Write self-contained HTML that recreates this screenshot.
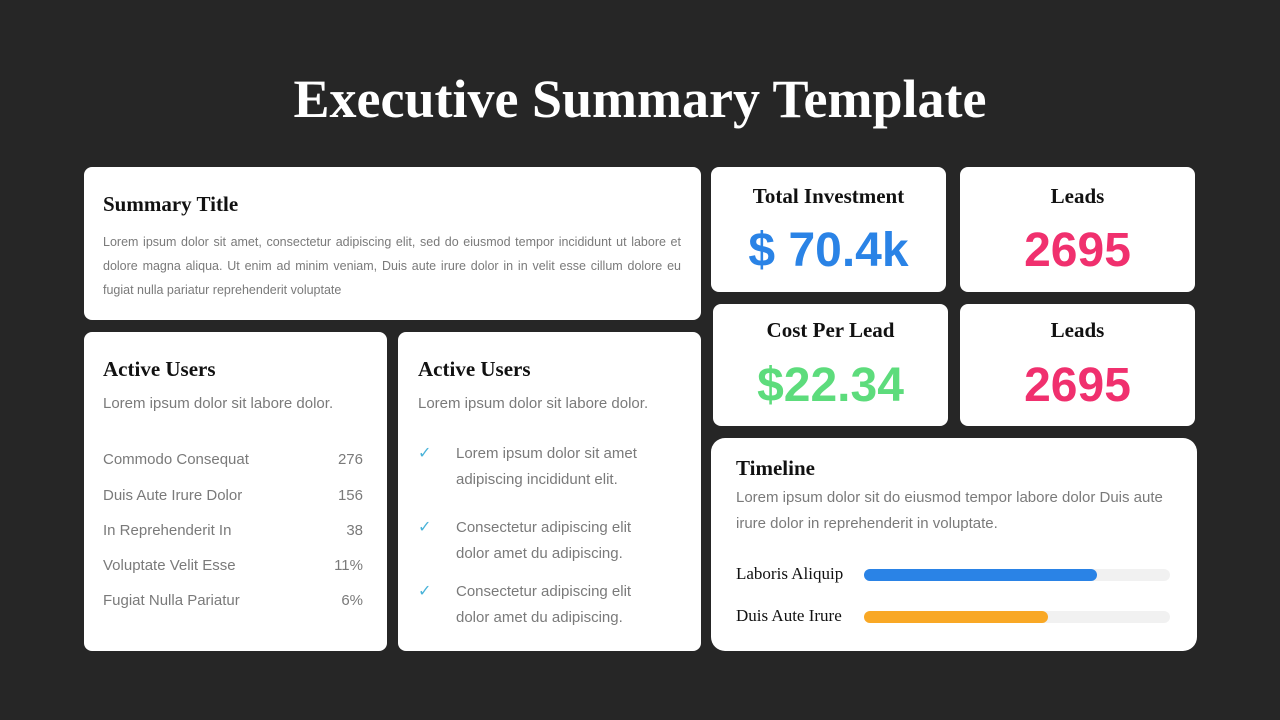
<!DOCTYPE html>
<html><head><meta charset="utf-8"><style>
body{margin:0;width:1280px;height:720px;background:#262626;position:relative;overflow:hidden;font-family:"Liberation Sans",sans-serif}
.a{position:absolute}
.card{position:absolute;background:#fff;border-radius:8px}
.h{font-family:"Liberation Serif",serif;font-weight:bold;color:#111}
.g{color:#7a7a7a}
.row{position:absolute;left:19px;right:24px;font-size:15px;color:#7a7a7a}
.row span{position:absolute;right:0}
.chk{position:absolute;left:20px;color:#4ab3d9;font-size:16px}
.li{position:absolute;left:58px;font-size:15px;color:#7a7a7a;line-height:26px}
.big{position:absolute;left:0;right:0;text-align:center;font-weight:bold;font-size:48px}
.st{position:absolute;left:0;right:0;text-align:center;font-size:21px}
</style></head><body>
<div class="a h" style="left:0;right:0;top:68px;text-align:center;color:#fff;font-size:54px">Executive Summary Template</div>

<div class="card" style="left:84px;top:167px;width:617px;height:153px">
<div class="a h" style="left:19px;top:25px;font-size:21px">Summary Title</div>
<div class="a g" style="left:19px;top:63px;width:578px;font-size:12.5px;line-height:24px;text-align:justify">Lorem ipsum dolor sit amet, consectetur adipiscing elit, sed do eiusmod tempor incididunt ut labore et dolore magna aliqua. Ut enim ad minim veniam, Duis aute irure dolor in in velit esse cillum dolore eu fugiat nulla pariatur reprehenderit voluptate</div>
</div>

<div class="card" style="left:84px;top:332px;width:303px;height:319px">
<div class="a h" style="left:19px;top:25px;font-size:21px">Active Users</div>
<div class="a g" style="left:19px;top:63px;font-size:15px">Lorem ipsum dolor sit labore dolor.</div>
<div class="row" style="top:119px">Commodo Consequat<span>276</span></div>
<div class="row" style="top:155px">Duis Aute Irure Dolor<span>156</span></div>
<div class="row" style="top:190px">In Reprehenderit In<span>38</span></div>
<div class="row" style="top:225px">Voluptate Velit Esse<span>11%</span></div>
<div class="row" style="top:260px">Fugiat Nulla Pariatur<span>6%</span></div>
</div>

<div class="card" style="left:398px;top:332px;width:303px;height:319px">
<div class="a h" style="left:20px;top:25px;font-size:21px">Active Users</div>
<div class="a g" style="left:20px;top:63px;font-size:15px">Lorem ipsum dolor sit labore dolor.</div>
<div class="chk" style="top:111px">✓</div>
<div class="li" style="top:109px">Lorem ipsum dolor sit amet<br>adipiscing incididunt elit.</div>
<div class="chk" style="top:185px">✓</div>
<div class="li" style="top:183px">Consectetur adipiscing elit<br>dolor amet du adipiscing.</div>
<div class="chk" style="top:249px">✓</div>
<div class="li" style="top:247px">Consectetur adipiscing elit<br>dolor amet du adipiscing.</div>
</div>

<div class="card" style="left:711px;top:167px;width:235px;height:125px">
<div class="st h" style="top:17px">Total Investment</div>
<div class="big" style="top:56px;color:#2a83e6">$ 70.4k</div>
</div>
<div class="card" style="left:960px;top:167px;width:235px;height:125px">
<div class="st h" style="top:17px">Leads</div>
<div class="big" style="top:56px;color:#f0306e">2695</div>
</div>
<div class="card" style="left:713px;top:304px;width:235px;height:122px">
<div class="st h" style="top:14px">Cost Per Lead</div>
<div class="big" style="top:54px;color:#5ddc7c">$22.34</div>
</div>
<div class="card" style="left:960px;top:304px;width:235px;height:122px">
<div class="st h" style="top:14px">Leads</div>
<div class="big" style="top:54px;color:#f0306e">2695</div>
</div>

<div class="card" style="left:711px;top:438px;width:486px;height:213px;border-radius:14px">
<div class="a h" style="left:25px;top:18px;font-size:21px">Timeline</div>
<div class="a g" style="left:25px;top:47px;width:440px;font-size:15px;line-height:26px">Lorem ipsum dolor sit do eiusmod tempor labore dolor Duis aute irure dolor in reprehenderit in voluptate.</div>
<div id="bars"></div>
</div>
<script>
const labels=["Laboris Aliquip","Duis Aute Irure"];
const values=[76,60];
const colors=["#2a83e6","#f9a825"];
const host=document.getElementById('bars');
const x0=153,w=306;
function xs(v){return v/100*w;}
labels.forEach((l,i)=>{
const top=126+i*42;
const lab=document.createElement('div');


lab.style.cssText=`position:absolute;left:25px;top:${top}px;font-family:"Liberation Serif",serif;font-size:17px;color:#111`;
lab.textContent=l;host.appendChild(lab);
const tr=document.createElement('div');


tr.style.cssText=`position:absolute;left:${x0}px;top:${top+5}px;width:${w}px;height:12px;border-radius:6px;background:#f1f1f1`;
host.appendChild(tr);
const b=document.createElement('div');


b.style.cssText=`position:absolute;left:0;top:0;height:12px;border-radius:6px;width:${xs(values[i])}px;background:${colors[i]}`;
tr.appendChild(b);
});
</script>
</body></html>
